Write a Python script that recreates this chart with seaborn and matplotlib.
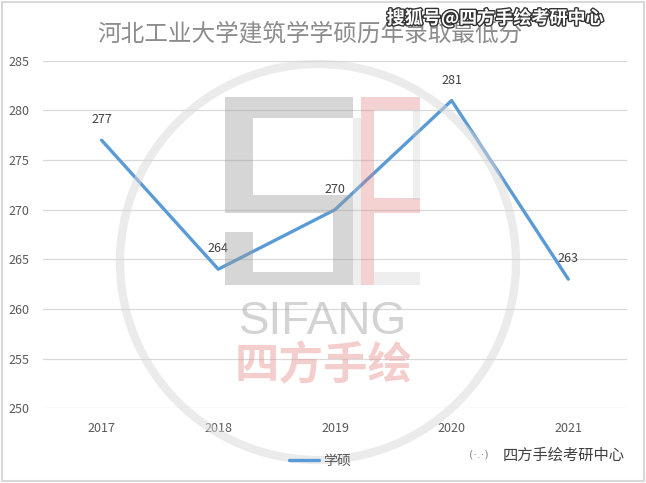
import matplotlib.pyplot as plt
import seaborn as sns
import numpy as np
import pandas as pd
from matplotlib.patches import Circle, Rectangle
import matplotlib.patheffects as pe

years = ['2017', '2018', '2019', '2020', '2021']
scores = [277, 264, 270, 281, 263]
series_name = '学硕'
title = '河北工业大学建筑学学硕历年录取最低分'
yticks = [250, 255, 260, 265, 270, 275, 280, 285]

df = pd.DataFrame({'year': years, 'score': scores})

sns.set_style('white')
plt.rcParams['font.family'] = ['Noto Sans CJK SC', 'DejaVu Sans']

fig = plt.figure(figsize=(6.46, 4.83), dpi=100)
ax = fig.add_axes([0.067, 0.155, 0.903, 0.719])

ax.patch.set_alpha(0)
sns.lineplot(data=df, x='year', y='score', ax=ax, color='#5b9bd5',
             linewidth=2.4, label=series_name, legend=False, sort=False)

for i, v in enumerate(scores):
    ax.annotate(str(v), (i, v), xytext=(0, 10), textcoords='offset points',
                ha='center', va='bottom', fontsize=9, color='#404040')

ax.set_xlim(-0.5, 4.5)
ax.set_ylim(250, 285)
ax.set_yticks(yticks)
ax.yaxis.grid(True, color='#d9d9d9', linewidth=0.9)
ax.set_axisbelow(True)
for s in ax.spines.values():
    s.set_visible(False)
ax.tick_params(axis='both', length=0, labelsize=9, labelcolor='#595959', pad=10)
ax.set_xlabel('')
ax.set_ylabel('')

# semi-transparent watermark laid over the chart
wm = fig.add_axes([0, 0, 1, 1], zorder=5)
wm.set_xlim(0, 646)
wm.set_ylim(483, 0)
wm.axis('off')
wm.patch.set_alpha(0)
g = dict(color='#9a9a9a', alpha=0.4, lw=0)
r = dict(color='#e08080', alpha=0.35, lw=0)
l = dict(color='#c8c8c8', alpha=0.3, lw=0)
wm.add_artist(Circle((318, 262), 198, fill=False, ec='#d8d8d8', lw=6, alpha=0.5))
wm.add_patch(Rectangle((225, 97), 128, 21, **g))
wm.add_patch(Rectangle((225, 118), 28, 95, **g))
wm.add_patch(Rectangle((253, 195), 100, 18, **g))
wm.add_patch(Rectangle((333, 213), 20, 72, **g))
wm.add_patch(Rectangle((253, 272), 80, 13, **g))
wm.add_patch(Rectangle((225, 232), 28, 53, **g))
wm.add_patch(Rectangle((353, 118), 8, 167, **l))
wm.add_patch(Rectangle((361, 97), 13, 188, **r))
wm.add_patch(Rectangle((374, 97), 46, 13, **r))
wm.add_patch(Rectangle((374, 198), 46, 15, **r))
wm.add_patch(Rectangle((413, 110), 7, 90, **l))
wm.add_patch(Rectangle((374, 272), 46, 13, **l))
wm.text(323, 322, 'SIFANG', ha='center', va='center', fontsize=33,
        color='#a8a8a8', alpha=0.5, family='Liberation Sans')
wm.text(324, 366, '四方手绘', ha='center', va='center', fontsize=32,
        color='#e89090', alpha=0.45, fontweight='bold')
wm.add_patch(Rectangle((2, 2), 642, 479, fill=False, ec='#d9d9d9', lw=1.5))

fig.text(0.48, 0.93, title, ha='center', va='center', fontsize=17,
         color='#8c8c8c')
fig.text(0.766, 0.962, '搜狐号@四方手绘考研中心', ha='center', va='center',
         fontsize=13, color='white', fontweight='bold', zorder=10,
         path_effects=[pe.withStroke(linewidth=2, foreground='#333333')])

handles, labels = ax.get_legend_handles_labels()
fig.legend(handles, labels, loc='center', bbox_to_anchor=(0.495, 0.045),
           frameon=False, fontsize=10, handlelength=2.2, handletextpad=0.3,
           labelcolor='#595959')
fig.text(0.967, 0.058, '四方手绘考研中心', ha='right', va='center',
         fontsize=11, color='#404040')
fig.text(0.757, 0.058, '(·.·)', ha='right', va='center', fontsize=8,
         color='#888888', family='DejaVu Sans')

fig.savefig('out.png', dpi=100)
